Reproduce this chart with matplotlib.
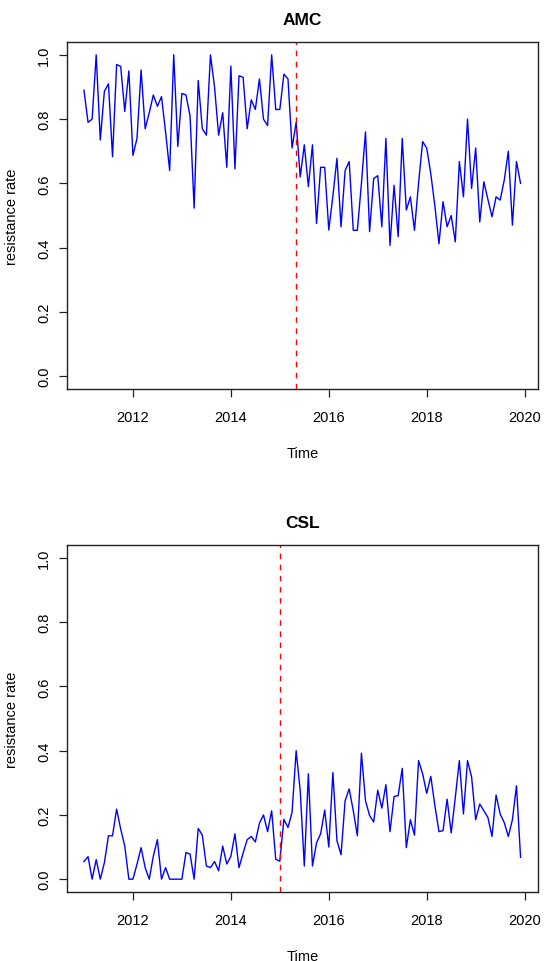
import numpy as np
import matplotlib
matplotlib.use('Agg')
import matplotlib.pyplot as plt

plt.rcParams['font.family'] = ['Liberation Sans', 'DejaVu Sans']

start_year = 2011
# monthly resistance rates, Jan 2011 - Dec 2019
amc = [0.89, 0.79, 0.80, 1.00, 0.735, 0.886, 0.91, 0.683, 0.97, 0.964, 0.824, 0.95,
       0.687, 0.74, 0.953, 0.77, 0.82, 0.875, 0.84, 0.87, 0.76, 0.64, 1.00, 0.715,
       0.88, 0.875, 0.81, 0.523, 0.92, 0.77, 0.75, 1.00, 0.90, 0.75, 0.82, 0.65,
       0.965, 0.645, 0.935, 0.93, 0.77, 0.86, 0.83, 0.925, 0.80, 0.78, 1.00, 0.83,
       0.83, 0.94, 0.925, 0.71, 0.79, 0.62, 0.72, 0.59, 0.72, 0.475, 0.65, 0.65,
       0.455, 0.56, 0.678, 0.465, 0.64, 0.668, 0.454, 0.454, 0.60, 0.76, 0.45, 0.615,
       0.624, 0.465, 0.74, 0.407, 0.594, 0.434, 0.74, 0.517, 0.558, 0.454, 0.60, 0.73,
       0.71, 0.63, 0.53, 0.412, 0.543, 0.465, 0.50, 0.418, 0.668, 0.558, 0.80, 0.584,
       0.71, 0.48, 0.605, 0.55, 0.496, 0.558, 0.548, 0.61, 0.70, 0.47, 0.668, 0.60]
csl = [0.055, 0.070, 0.0, 0.061, 0.0, 0.051, 0.135, 0.135, 0.218, 0.156, 0.103, 0.0,
       0.0, 0.047, 0.098, 0.036, 0.0, 0.072, 0.123, 0.0, 0.036, 0.0, 0.0, 0.0,
       0.0, 0.083, 0.078, 0.0, 0.158, 0.137, 0.041, 0.036, 0.055, 0.026, 0.103, 0.047,
       0.071, 0.141, 0.036, 0.081, 0.123, 0.133, 0.116, 0.174, 0.200, 0.148, 0.213, 0.062,
       0.056, 0.186, 0.161, 0.208, 0.400, 0.275, 0.041, 0.328, 0.041, 0.113, 0.141, 0.215,
       0.100, 0.332, 0.120, 0.076, 0.244, 0.281, 0.213, 0.135, 0.392, 0.244, 0.198, 0.178,
       0.277, 0.221, 0.294, 0.148, 0.257, 0.260, 0.345, 0.098, 0.185, 0.137, 0.369, 0.328,
       0.267, 0.320, 0.229, 0.148, 0.151, 0.249, 0.144, 0.254, 0.369, 0.203, 0.369, 0.318,
       0.185, 0.234, 0.213, 0.192, 0.133, 0.262, 0.203, 0.176, 0.133, 0.185, 0.291, 0.068]
titles = ['AMC', 'CSL']
breaks = [2015 + 4 / 12, 2015.0]
x_ticks = [2012, 2014, 2016, 2018, 2020]
y_ticks = [0.0, 0.2, 0.4, 0.6, 0.8, 1.0]

time = start_year + np.arange(len(amc)) / 12

fig = plt.figure(figsize=(5.46, 9.62), dpi=100)
boxes = [[0.1218, 0.5946, 0.8636, 0.3607], [0.1218, 0.0717, 0.8636, 0.3607]]

for box, series, title, brk in zip(boxes, [amc, csl], titles, breaks):
    ax = fig.add_axes(box)
    ax.plot(time, series, color='blue', lw=1.0)
    ax.axvline(brk, color='red', lw=1.0, linestyle=(0, (4, 4)))
    span = time[-1] - time[0]
    ax.set_xlim(time[0] - 0.04 * span, time[-1] + 0.04 * span)
    ax.set_ylim(-0.04, 1.04)
    ax.set_xticks(x_ticks)
    ax.set_yticks(y_ticks)
    ax.set_yticklabels(['%.1f' % v for v in y_ticks], rotation=90, va='center')
    ax.tick_params(direction='out', length=6, width=0.9, labelsize=10.5, color='#222222')
    ax.tick_params(axis='x', pad=9)
    ax.tick_params(axis='y', pad=5)
    for s in ax.spines.values():
        s.set_linewidth(1.0)
        s.set_color('#222222')
    ax.set_xlabel('Time', fontsize=10.5, va='center')
    ax.xaxis.set_label_coords(0.5, -0.184)
    ax.set_ylabel('resistance rate', fontsize=10.5, va='center')
    ax.yaxis.set_label_coords(-0.116, 0.5)
    ax.text(0.5, 1.066, title, transform=ax.transAxes, ha='center', va='center',
            fontsize=12.5, fontweight='bold')

fig.savefig('out.png', dpi=100)
